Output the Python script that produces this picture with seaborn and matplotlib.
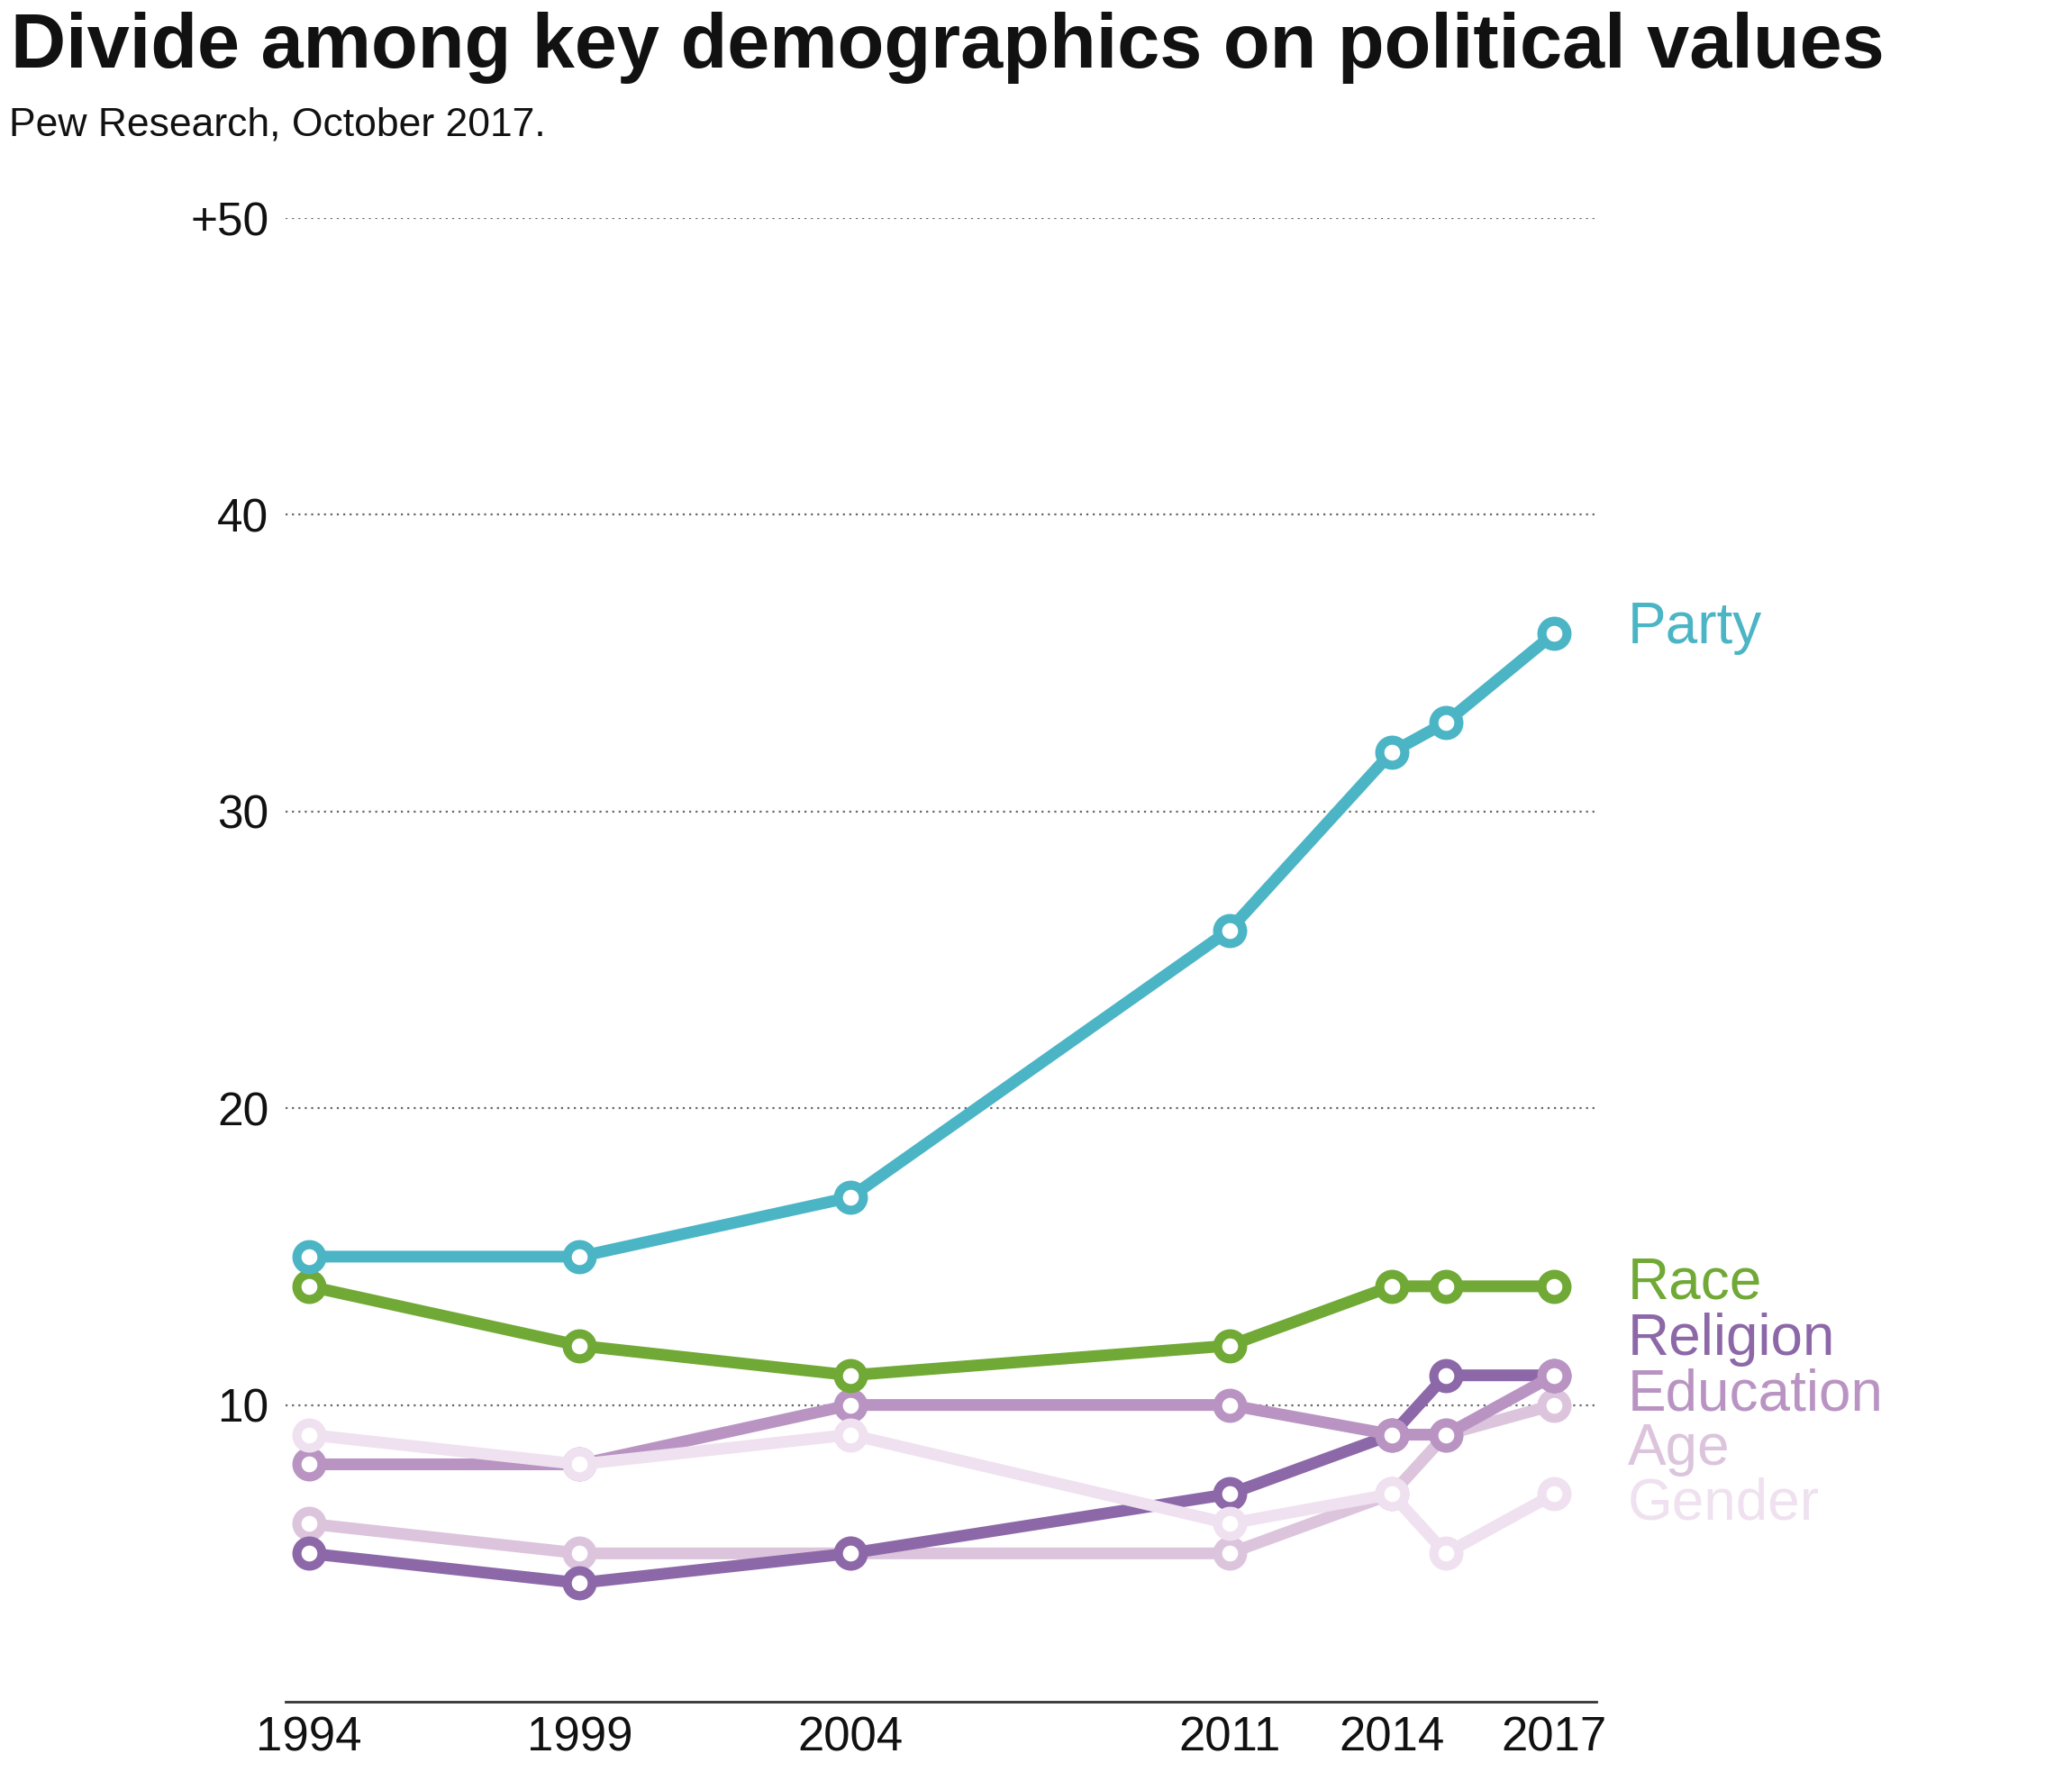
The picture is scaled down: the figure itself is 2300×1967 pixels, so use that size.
import matplotlib
matplotlib.use("Agg")
import matplotlib.pyplot as plt
from matplotlib import font_manager
import seaborn as sns
import pandas as pd

# ---- data ----
years = [1994, 1999, 2004, 2011, 2014, 2015, 2017]
tick_years = [1994, 1999, 2004, 2011, 2014, 2017]
party = [15, 15, 17, 26, 32, 33, 36]
race = [14, 12, 11, 12, 14, 14, 14]
religion = [5, 4, 5, 7, 9, 11, 11]
education = [8, 8, 10, 10, 9, 9, 11]
age = [6, 5, 5, 5, 7, 9, 10]
gender = [9, 8, 9, 6, 7, 5, 7]
y_ticks = [10, 20, 30, 40, 50]
y_tick_labels = ["10", "20", "30", "40", "+50"]

series = {
    "Party": party, "Race": race, "Religion": religion,
    "Education": education, "Age": age, "Gender": gender,
}
colors = {
    "Party": "#4bb5c5", "Race": "#70a935", "Religion": "#8d68a8",
    "Education": "#b994c3", "Age": "#dcc4dd", "Gender": "#efe1ef",
}
draw_order = ["Age", "Religion", "Education", "Gender", "Race", "Party"]
label_y = {"Party": 36.2, "Race": 14.1, "Religion": 12.2,
           "Education": 10.35, "Age": 8.5, "Gender": 6.65}

rows = []
for name, vals in series.items():
    for yr, v in zip(years, vals):
        rows.append({"year": yr, "value": v, "group": name})
df = pd.DataFrame(rows)

sns.set_theme(style="white")
avail = {f.name for f in font_manager.fontManager.ttflist}
fam = "Liberation Sans Narrow" if "Liberation Sans Narrow" in avail else "Liberation Sans"
plt.rcParams["font.family"] = [fam, "DejaVu Sans"]

W, H = 2300, 1967
fig = plt.figure(figsize=(W / 100, H / 100), dpi=100)
ax = fig.add_axes([317 / W, 1 - 1889 / H, (1772 - 317) / W, (1889 - 242) / H])

for name in draw_order:
    sub = df[df["group"] == name]
    sns.lineplot(data=sub, x="year", y="value", ax=ax, color=colors[name],
                 lw=9.4, marker="o", markersize=20, markerfacecolor="white",
                 markeredgecolor=colors[name], markeredgewidth=7.3,
                 legend=False, zorder=3, solid_joinstyle="round")
    ax.annotate(name, xy=(years[-1], label_y[name]), xytext=(59, 0),
                textcoords="offset points", va="center", ha="left",
                fontsize=46, color=colors[name], annotation_clip=False)

ax.set_xlim(1993.567, 2017.78)
ax.set_ylim(0, 50)
ax.set_yticks(y_ticks)
ax.set_yticklabels(y_tick_labels, fontsize=37, color="#111111")
ax.set_xticks(tick_years)
ax.set_xticklabels([str(t) for t in tick_years], fontsize=38, color="#111111")
ax.tick_params(axis="y", length=0, pad=13.5)
ax.tick_params(axis="x", length=0, pad=11.5)
ax.set_xlabel("")
ax.set_ylabel("")
for yv in y_ticks:
    ax.axhline(yv, color="#666666", lw=1.6, ls=(0, (1, 2.2)), zorder=1)
for s in ["top", "right", "left"]:
    ax.spines[s].set_visible(False)
ax.spines["bottom"].set_color("#333333")
ax.spines["bottom"].set_linewidth(2)
ax.patch.set_alpha(0)

fig.text(12 / W, 1 - 75 / H, "Divide among key demographics on political values",
         fontsize=61, fontweight="bold", ha="left", va="baseline", color="#111111")
fig.text(10 / W, 1 - 150 / H, "Pew Research, October 2017.",
         fontsize=32, ha="left", va="baseline", color="#111111")

fig.savefig("out.png", dpi=100, facecolor="white")
